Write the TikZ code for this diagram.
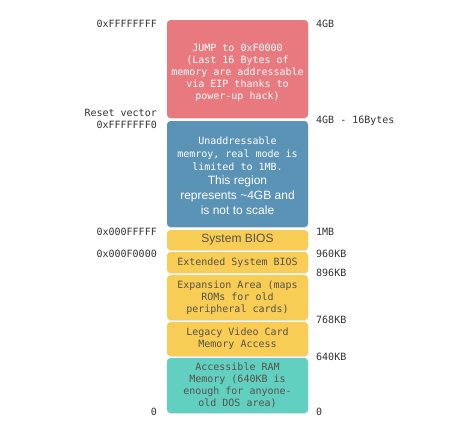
\documentclass[tikz,border=0pt]{standalone}
\usepackage{fontspec}
\setmainfont{Liberation Sans}
\setmonofont{DejaVu Sans Mono}
\usetikzlibrary{shadows}
\definecolor{cred}{HTML}{E8797F}
\definecolor{cblue}{HTML}{5A93B5}
\definecolor{cyel}{HTML}{F8CD55}
\definecolor{cteal}{HTML}{62D0C0}
\definecolor{dtext}{HTML}{56524C}
\definecolor{ltext}{HTML}{333333}
\newcommand\bigsans{\rmfamily\fontsize{12}{14}\selectfont}
\tikzset{
  mem/.style={rounded corners=3.5pt, minimum width=141pt, inner sep=0pt, align=center,
    font=\ttfamily\fontsize{10}{12}\selectfont,
    drop shadow={opacity=0.18, shadow xshift=0.4pt, shadow yshift=-1.2pt}},
  memtext/.style={inner sep=0pt, align=center, font=\ttfamily\fontsize{10}{12}\selectfont},
  lab/.style={font=\ttfamily\fontsize{10}{12}\selectfont, text=ltext, inner sep=0pt, align=right},
  llab/.style={lab, anchor=east},
  rlab/.style={lab, anchor=west, align=left},
}
\begin{document}
\begin{tikzpicture}[x=1pt,y=-1pt]
\useasboundingbox[fill=white] (0,0) rectangle (474,434);
% boxes
\node[mem, fill=cred, minimum height=98pt] (red) at (237.5,69) {};
\node[memtext, text=white] (redtext) at (237.5,73)
  {JUMP to 0xF0000\\(Last 16 Bytes of\\memory are addressable\\via EIP thanks to\\power-up hack)};
\node[mem, fill=cblue, minimum height=106pt] (blue) at (237.5,174) {};
\node[memtext, text=white] (bluetext) at (237.5,175.5)
  {Unaddressable\\[1pt]memroy, real mode is\\[1pt]limited to 1MB.\\[2.5pt]\bigsans This region\\[3pt]\bigsans represents \textasciitilde4GB and\\[3pt]\bigsans is not to scale};
\node[mem, fill=cyel, text=dtext, minimum height=20pt, font=\bigsans] (sys) at (237.5,240)
  {System BIOS};
\node[mem, fill=cyel, text=dtext, minimum height=21pt] (ext) at (237.5,262.5)
  {Extended System BIOS};
\node[mem, fill=cyel, text=dtext, minimum height=45pt] (exp) at (237.5,297.5)
  {Expansion Area (maps\\ROMs for old\\peripheral cards)};
\node[mem, fill=cyel, text=dtext, minimum height=34pt] (vid) at (237.5,339)
  {Legacy Video Card\\Memory Access};
\node[mem, fill=cteal, text=dtext, minimum height=55pt] (ram) at (237.5,385.5)
  {Accessible RAM\\Memory (640KB is\\enough for anyone-\\old DOS area)};
% left labels
\node[llab] (l1) at (157,24) {0xFFFFFFFF};
\node[llab] (l2) at (157,119) {Reset vector\\0xFFFFFFF0};
\node[llab] (l3) at (157,232) {0x000FFFFF};
\node[llab] (l4) at (157,254) {0x000F0000};
\node[llab] (l5) at (157,412) {0};
% right labels
\node[rlab] (r1) at (316,24) {4GB};
\node[rlab] (r2) at (316,121) {4GB - 16Bytes};
\node[rlab] (r3) at (316,232) {1MB};
\node[rlab] (r4) at (316,254) {960KB};
\node[rlab] (r5) at (316,273) {896KB};
\node[rlab] (r6) at (316,320) {768KB};
\node[rlab] (r7) at (316,357) {640KB};
\node[rlab] (r8) at (316,412) {0};
\end{tikzpicture}
\end{document}
